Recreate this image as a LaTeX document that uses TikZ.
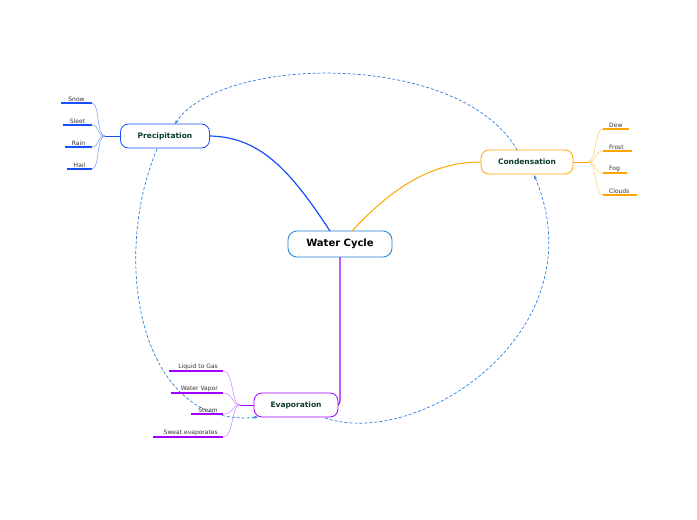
\documentclass[tikz,border=0pt]{standalone}
\usepackage{fontspec}
\setmainfont{DejaVu Sans}
\usetikzlibrary{arrows.meta}
\definecolor{pblue}{HTML}{1450FF}
\definecolor{cblue}{HTML}{1A7FD4}
\definecolor{orng}{HTML}{FFA500}
\definecolor{purp}{HTML}{A000FF}
\definecolor{dgreen}{HTML}{0B3B2E}
\definecolor{relcol}{HTML}{2A7DE1}
\tikzset{
 main/.style={draw=cblue,rounded corners=9pt,fill=white,minimum width=104pt,minimum height=26pt,font=\bfseries\fontsize{10}{12}\selectfont,line width=0.8pt},
 sub/.style={draw=#1,rounded corners=8pt,fill=white,minimum height=24pt,font=\bfseries\fontsize{7.5}{9}\selectfont,text=dgreen,line width=0.8pt},
 leaf/.style={font=\fontsize{6}{7}\selectfont,text=black!80,inner sep=1pt,anchor=south},
 rel/.style={relcol,densely dashed,line width=0.7pt,-{Stealth[length=4pt]}}
}
\begin{document}
\begin{tikzpicture}[x=1pt,y=-1pt]
\useasboundingbox (0,0) rectangle (697,520);
% relationships (behind)
\draw[rel] (517,150) .. controls (460,50) and (220,55) .. (175,124);
\draw[rel] (157,149) .. controls (110,260) and (140,430) .. (258,417);
\draw[rel] (325,418) .. controls (420,450) and (600,330) .. (534,175);
\node[main] (wc) at (340,244) {Water Cycle};
\node[sub=pblue,minimum width=89pt] (pr) at (165,136) {Precipitation};
\node[sub=orng,minimum width=92pt] (co) at (527,162) {Condensation};
\node[sub=purp,minimum width=84pt] (ev) at (296,405) {Evaporation};
% main branches
\draw[pblue,line width=1.2pt] (330,231) .. controls (290,170) and (260,137) .. (pr.east);
\draw[orng,line width=1pt] (352,231) .. controls (390,190) and (430,162) .. (co.west);
\draw[purp,line width=1.2pt] (340,257) -- (340,395) .. controls (340,403) .. (ev.east);
% precipitation leaves
\coordinate (pj) at (105,136);
\draw[pblue,line width=0.8pt] (pr.west) -- (pj);
\foreach \t/\y/\x in {Snow/103/61,Sleet/125/63,Rain/147/65,Hail/169/67}{
 \node[leaf] (l\t) at ({(\x+92)/2},\y) {\t};
 \draw[pblue!60,line width=0.5pt] (pj) .. controls (96,136) and (100,\y) .. (92,\y);
 \draw[pblue,line width=1.3pt] (\x,\y) -- (92,\y);
}
% condensation leaves
\coordinate (cj) at (588,162);
\draw[orng,line width=0.8pt] (co.east) -- (cj);
\foreach \t/\y/\x in {Dew/129/629,Frost/151/632,Fog/173/627,Clouds/195/637}{
 \node[leaf,anchor=south west] (l\t) at (608,\y) {\t};
 \draw[orng!60,line width=0.5pt] (cj) .. controls (597,162) and (594,\y) .. (603,\y);
 \draw[orng,line width=1.3pt] (603,\y) -- (\x,\y);
}
% evaporation leaves
\coordinate (ej) at (240,405);
\draw[purp,line width=0.8pt] (ev.west) -- (ej);
\foreach \t/\y/\x in {Liquid to Gas/371/169,Water Vapor/393/171,Steam/414/191,Sweat evaporates/437/153}{
 \node[leaf,anchor=south east] at (219,\y) {\t};
 \draw[purp!50,line width=0.5pt] (ej) .. controls (231,405) and (234,\y) .. (223,\y);
 \draw[purp,line width=1.3pt] (\x,\y) -- (223,\y);
}
\end{tikzpicture}
\end{document}
